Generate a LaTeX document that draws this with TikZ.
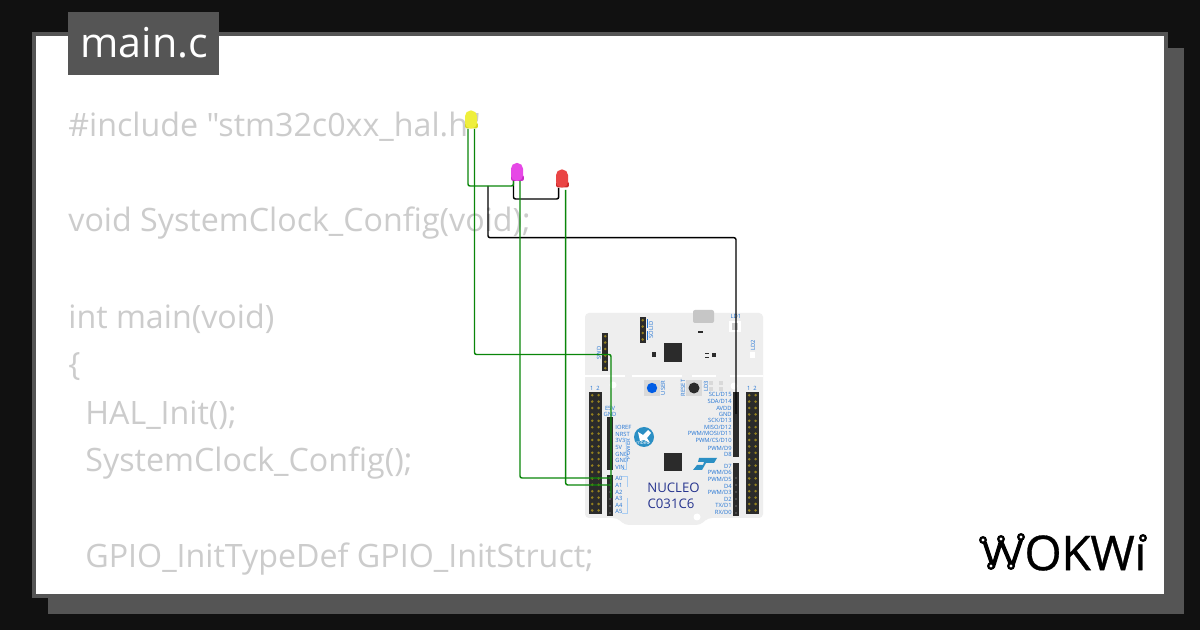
\documentclass[tikz,border=0pt]{standalone}
\usepackage{fontspec}
\setmainfont{Open Sans}
\newfontfamily\codefont{Open Sans}
\usetikzlibrary{calc,positioning,arrows.meta,shapes.geometric}
\definecolor{wkBack}{HTML}{111111}
\definecolor{wkGrey}{HTML}{555555}
\definecolor{wkCode}{HTML}{CCCCCC}
\definecolor{wkBoard}{HTML}{EEEEEE}
\definecolor{wkHeader}{HTML}{2B2B2B}
\definecolor{wkGold}{HTML}{94801F}
\definecolor{wkBlue}{HTML}{2274D4}
\definecolor{wkPale}{HTML}{A9CDF2}
\definecolor{wkNavy}{HTML}{27358F}
\definecolor{wkSt}{HTML}{2B8FC4}
\definecolor{wkWire}{HTML}{0A860A}
\definecolor{wkYellow}{HTML}{EFEF3C}
\definecolor{wkYellowRim}{HTML}{D8D820}
\definecolor{wkMagenta}{HTML}{E648E6}
\definecolor{wkMagentaRim}{HTML}{C92AC9}
\definecolor{wkRed}{HTML}{EA4545}
\definecolor{wkRedRim}{HTML}{CE2A2A}
\tikzset{
  code/.style={anchor=west, inner sep=0pt, text=wkCode, font=\codefont\fontsize{16.1}{16}\selectfont},
  silk/.style={inner sep=0pt, text=wkBlue, font=\fontsize{2.9}{3}\selectfont},
  silkleft/.style={silk, anchor=west},
  silkright/.style={silk, anchor=east},
  ledbody/.style={draw=none, minimum width=6pt, minimum height=9pt, inner sep=0pt, rounded corners=2.8pt},
  ledrim/.style={draw=none, minimum width=6.4pt, minimum height=3pt, inner sep=0pt, rounded corners=1pt},
  wiregreen/.style={draw=wkWire, line width=.72pt, rounded corners=1pt},
  wireblack/.style={draw=black, line width=.72pt, rounded corners=1pt},
  logo/.style={line width=2pt, line cap=round, line join=round},
}
% one strip of header pins: x, first y, number of rows
\newcommand{\pinrow}[3]{
  \fill[wkHeader] (#1,#2) rectangle ({#1+6.4},{#2+6.4*#3});
  \foreach \p in {1,...,#3}
    \fill[wkGold] ({#1+3.2},{#2+6.4*\p-3.2}) circle (1.4);
}
\begin{document}
\begin{tikzpicture}[x=.5pt,y=-.5pt]
  \useasboundingbox (0,0) rectangle (1200,630);
  % frame
  \fill[wkBack] (0,0) rectangle (1200,630);
  \fill[wkGrey] (48,48) rectangle (1184,614);
  \fill[wkGrey] (32,32) rectangle (1168,598);
  \fill[white] (36,36) rectangle (1164,594);
  \fill[wkGrey] (68,12) rectangle (219,75);
  \node[anchor=west, inner sep=0pt, text=white, font=\fontsize{20.6}{20}\selectfont] (tabName) at (80,43) {main.c};
  % code behind the circuit
  \node[code] (codeInclude) at (68,127) {\#include "stm32c0xx\_hal.h"};
  \node[code] (codeProto) at (68,223) {void SystemClock\_Config(void);};
  \node[code] (codeMain) at (68,319) {int main(void)};
  \node[code] (codeBrace) at (68,367) {\{};
  \node[code] (codeInit) at (85,415) {HAL\_Init();};
  \node[code] (codeClock) at (85,463) {SystemClock\_Config();};
  \node[code] (codeGpio) at (85,559) {GPIO\_InitTypeDef GPIO\_InitStruct;};
  % board
  \fill[wkBoard, rounded corners=2pt] (585,313) -- (763,313) -- (763,518) -- (708,518) -- (700,525)
    -- (625,525) -- (617,518) -- (585,518) -- cycle;
  \fill[white] (585,375) rectangle (625,377.5);
  \fill[white] (632,375) rectangle (682,377.5);
  \fill[white] (692,375) rectangle (716,377.5);
  \fill[white] (730,375) rectangle (763,377.5);
  \fill[white] (613,385) circle (3.5);
  \fill[white] (734,386) circle (3.5);
  \fill[white] (697,517) circle (3.5);
  % headers
  \pinrow{589}{392}{19}
  \pinrow{595.4}{392}{19}
  \pinrow{746}{392}{19}
  \pinrow{752.4}{392}{19}
  \pinrow{602}{333}{6}
  \pinrow{639.5}{317}{4}
  \fill[wkHeader] (607,417) rectangle (613,470);
  \fill[wkHeader] (607,475) rectangle (613,516);
  \fill[wkHeader] (733,392) rectangle (739,457);
  \fill[wkHeader] (733,463) rectangle (739,516);
  \foreach \y in {478,485,...,513}{
    \fill[gray!70!black] (610,\y) circle (1.2);
    \fill[gray!70!black] (736,\y) circle (1.2);
  }
  \fill[wkBlue] (647,319) rectangle (648,328);
  \fill[wkBlue] (647,331) rectangle (648,340);
  % parts on the board
  \fill[gray!45, rounded corners=1pt] (693,310) rectangle (714,323);
  \fill[white] (729,321) rectangle (741,332);
  \fill[gray!40] (732,323) rectangle (738,330);
  \fill[white] (750,352) rectangle (755,358);
  \fill[wkHeader] (664,343) rectangle (682,362);
  \fill[wkHeader] (664,453) rectangle (682,471);
  \fill[wkHeader] (652,352) rectangle (656,357);
  \fill[wkHeader] (698,331) rectangle (703,333);
  \fill[wkHeader] (705,353) rectangle (709,354);
  \fill[wkHeader] (705,357) rectangle (709,358);
  \fill[wkHeader] (712,353) rectangle (716,357);
  \fill[gray!30] (644,380) rectangle (660,396);
  \fill[blue!60!cyan!90!black] (652,388) circle (5.2);
  \fill[gray!30] (686,380) rectangle (702,396);
  \fill[wkHeader] (694,388) circle (5.5);
  \fill[gray!30] (709,381) rectangle (713,385);
  \fill[gray!30] (709,387) rectangle (713,391);
  \fill[gray!30] (719,381) rectangle (723,385);
  \fill[gray!30] (719,387) rectangle (723,391);
  % left silk
  \foreach \y/\t in {427/IOREF,434/NRST,440/3V3,447/5V,454/GND,460/GND,467/VIN,478/A0,485/A1,492/A2,498/A3,505/A4,511/A5}
    \node[silkleft] at (615,\y) {\t};
  % right silk
  \foreach \y/\t in {394/{SCL/D15},401/{SDA/D14},408/AVDD,414/GND,420/{SCK/D13},427/{MISO/D12},433/{PWM/MOSI/D11},440/{PWM/CS/D10},448/{PWM/D9},454/D8,466/D7,472/{PWM/D6},479/{PWM/D5},486/D4,492/{PWM/D3},499/D2,505/{TX/D1},512/{RX/D0}}
    \node[silkright] at (732,\y) {\t};
  \node[silk] at (595,388) {1\,\,\,2};
  \node[silk] at (752,388) {1\,\,\,2};
  \node[silk] at (610,408) {E5V};
  \node[silk] at (610,414) {GND};
  \node[silk] at (736,316) {LD1};
  \node[silk, rotate=90] at (753,345) {LD2};
  \node[silk, rotate=90] at (599,353) {SWD};
  \node[silk, rotate=90] at (651,330) {SOLID};
  \node[silk, rotate=90] at (663,388) {USER};
  \node[silk, rotate=90] at (683,388) {RESET};
  \node[silk, rotate=90] at (628,449) {POWER};
  \node[silk, rotate=90] at (706,386) {LD3};
  \draw[wkPale, line width=.4pt] (622,438) -- (626,438) -- (626,469) -- (622,469);
  \draw[wkPale, line width=.4pt] (622,476) -- (627,476) -- (627,487);
  \draw[wkPale, line width=.4pt] (627,498) -- (627,513) -- (622,513);
  % logos on the board
  \fill[wkSt] (644,437) circle (10);
  \fill[white] (638,432) -- (643,435) -- (648,430) -- (651,433) -- (647,438) -- (650,443) -- (644,440) -- (640,441) -- cycle;
  \node[inner sep=0pt, text=white, font=\fontsize{2.4}{3}\selectfont] (mbedName) at (643,442.5) {mbed};
  \fill[wkSt] (699,458) -- (717,458) -- (714,463) -- (706,463) -- (702,470) -- (693,470) -- (697,465) -- (703,465) -- (704,462) -- (698,462) -- cycle;
  \node[inner sep=0pt, text=wkNavy, font=\fontsize{6.6}{7}\selectfont] (boardName) at (673.5,488) {NUCLEO};
  \node[inner sep=0pt, text=wkNavy, font=\fontsize{6.6}{7}\selectfont] (boardPart) at (671,504) {C031C6};
  % pins the wires end on
  \coordinate (pinGnd) at (736,414);
  \coordinate (pinA0) at (610,478);
  \coordinate (pinA1) at (610,485);
  \coordinate (pinA3) at (611,498);
  % leds
  \node[ledrim, fill=wkYellowRim] (rimYellow) at (471.5,125.5) {};
  \node[ledbody, fill=wkYellow] (ledYellow) at (471,119.5) {};
  \node[ledrim, fill=wkMagentaRim] (rimMagenta) at (517.5,178) {};
  \node[ledbody, fill=wkMagenta] (ledMagenta) at (517,172) {};
  \node[ledrim, fill=wkRedRim] (rimRed) at (562.5,184.5) {};
  \node[ledbody, fill=wkRed] (ledRed) at (562,178.5) {};
  \coordinate (yellowK) at (468,129);
  \coordinate (yellowA) at (474.5,129);
  \coordinate (magentaK) at (513.5,181);
  \coordinate (magentaA) at (520,181);
  \coordinate (redK) at (558.7,188);
  \coordinate (redA) at (565.7,190);
  \coordinate (greenJoin) at (488,186);
  % wires
  \draw[wireblack] (magentaK) -- (513.5,199) -- (558.7,199) -- (redK);
  \draw[wireblack] (greenJoin) -- (488,237.7) -- (736,237.7) -- (pinGnd);
  \draw[wiregreen] (yellowK) -- (468,186) -- (513.5,186) -- (magentaK);
  \draw[wiregreen] (yellowA) -- (474.5,354.5) -- (611,354.5) -- (pinA3);
  \draw[wiregreen] (magentaA) -- (520,478) -- (pinA0);
  \draw[wiregreen] (redA) -- (565.7,485) -- (pinA1);
  % wokwi mark
  \draw[logo] (985,543) -- (993,567) -- (1001,541) -- (1012,567) -- (1021,540);
  \foreach \x/\y in {983/540,1001/539,1021/537,991/566,1011/566}{
    \fill[black] (\x,\y) circle (4);
    \fill[white] (\x,\y) circle (1.6);
  }
  \node[anchor=west, inner sep=0pt, font=\fontsize{24}{24}\selectfont\addfontfeature{LetterSpace=-1,FakeBold=0.6}] (logoText) at (1024,553) {OKW\i};
  \fill[black] (1143,538) circle (4);
  \fill[white] (1143,538) circle (1.6);
\end{tikzpicture}
\end{document}
